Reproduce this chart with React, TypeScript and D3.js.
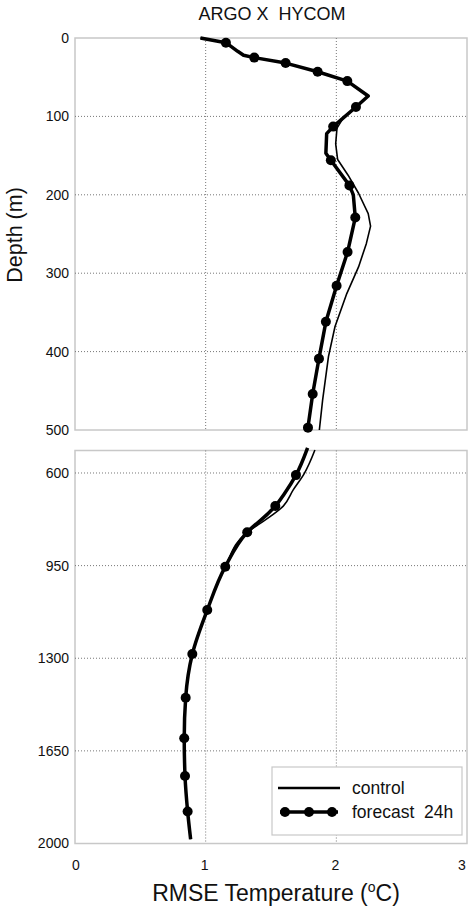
import React from "react";
import * as d3 from "d3";

// ---- data ----
const title = "ARGO X  HYCOM";
const xTicks = [0, 1, 2, 3];
const topYTicks = [0, 100, 200, 300, 400, 500];
const botYTicks = [600, 950, 1300, 1650, 2000];

// forecast 24h, upper panel (0-500 m)
const fcTopDepth = [0, 6, 17, 22, 25, 32, 43, 55, 74, 88, 113, 122, 147, 156, 188, 200, 229, 273, 316, 362, 409, 454, 500];
const fcTopRmse = [0.96, 1.155, 1.245, 1.29, 1.372, 1.612, 1.857, 2.084, 2.244, 2.15, 1.976, 1.926, 1.92, 1.958, 2.1, 2.13, 2.145, 2.086, 2.002, 1.92, 1.867, 1.819, 1.78];
const fcTopMarkDepth = [6, 25, 32, 43, 55, 88, 113, 156, 188, 229, 273, 316, 362, 409, 454, 497];
const fcTopMarkRmse = [1.155, 1.372, 1.612, 1.857, 2.084, 2.15, 1.976, 1.958, 2.1, 2.145, 2.086, 2.002, 1.92, 1.867, 1.819, 1.783];

// control, upper panel
const ctTopDepth = [0, 6, 17, 22, 25, 32, 43, 55, 74, 88, 100, 115, 135, 155, 175, 198, 224, 240, 262, 292, 326, 368, 406, 462, 500];
const ctTopRmse = [0.96, 1.155, 1.245, 1.29, 1.372, 1.612, 1.857, 2.084, 2.244, 2.16, 2.06, 2.005, 1.995, 2.01, 2.09, 2.17, 2.244, 2.262, 2.23, 2.17, 2.08, 1.99, 1.94, 1.895, 1.87];

// forecast 24h, lower panel
const fcBotDepth = [505, 608, 680, 725, 752, 824, 954, 1118, 1284, 1449, 1602, 1745, 1879, 1984];
const fcBotRmse = [1.78, 1.691, 1.6, 1.533, 1.48, 1.318, 1.15, 1.012, 0.898, 0.847, 0.836, 0.842, 0.862, 0.885];
const fcBotMarkDepth = [608, 725, 824, 954, 1118, 1284, 1449, 1602, 1745, 1879];
const fcBotMarkRmse = [1.691, 1.533, 1.318, 1.15, 1.012, 0.898, 0.847, 0.836, 0.842, 0.862];

// control, lower panel
const ctBotDepth = [513, 604, 664, 725, 766, 796, 824, 954, 1118, 1284, 1449, 1602, 1745, 1879, 1984];
const ctBotRmse = [1.836, 1.752, 1.67, 1.594, 1.49, 1.4, 1.318, 1.15, 1.012, 0.898, 0.847, 0.836, 0.842, 0.862, 0.885];

const FONT = "'Liberation Sans', Arial, Helvetica, sans-serif";

export default function App() {
  const W = 474, H = 912;
  const x = d3.scaleLinear().domain([0, 3]).range([75, 467]);
  const yTop = d3.scaleLinear().domain([0, 500]).range([38, 430]);
  const yBot = d3.scaleLinear().domain([515, 2000]).range([450.5, 843.5]);

  const zip = (a: number[], b: number[]) => a.map((d, i) => [b[i], d] as [number, number]);

  const lineTop = d3.line<[number, number]>().x((d) => x(d[0])).y((d) => yTop(d[1])).curve(d3.curveLinear);
  const lineBot = d3.line<[number, number]>().x((d) => x(d[0])).y((d) => yBot(d[1])).curve(d3.curveMonotoneY);

  const gridColor = "#777";
  const borderColor = "#c8c8c8";

  const panel = (y: d3.ScaleLinear<number, number>, ticks: number[], key: string) => {
    const [y0, y1] = y.range();
    return (
      <g key={key}>
        <rect x={x(0)} y={y0} width={x(3) - x(0)} height={y1 - y0} fill="white" stroke={borderColor} strokeWidth={1.5} />
        {[1, 2].map((v) => (
          <line key={"v" + v} x1={x(v)} x2={x(v)} y1={y0} y2={y1} stroke={gridColor} strokeWidth={1} strokeDasharray="1,2" />
        ))}
        {ticks.filter((t) => y(t) > y0 + 2 && y(t) < y1 - 2).map((t) => (
          <line key={"h" + t} x1={x(0)} x2={x(3)} y1={y(t)} y2={y(t)} stroke={gridColor} strokeWidth={1} strokeDasharray="1,2" />
        ))}
        {ticks.map((t) => (
          <text key={"t" + t} x={69} y={y(t)} dy="0.35em" textAnchor="end" fontSize={14} fontFamily={FONT} fill="#111">
            {t}
          </text>
        ))}
      </g>
    );
  };

  const markR = 5;

  return (
    <svg width={W} height={H} style={{ position: "absolute", left: 0, top: 0, background: "white" }}>
      <rect x={0} y={0} width={W} height={H} fill="white" />
      <text x={272} y={20} textAnchor="middle" fontSize={18} fontFamily={FONT} fill="#111" style={{ whiteSpace: "pre" }}>
        {title}
      </text>
      {panel(yTop, topYTicks, "top")}
      {panel(yBot, botYTicks, "bot")}

      {/* control lines */}
      <path d={lineTop(zip(ctTopDepth, ctTopRmse)) || ""} fill="none" stroke="#000" strokeWidth={1.6} strokeLinejoin="round" />
      <path d={lineBot(zip(ctBotDepth, ctBotRmse)) || ""} fill="none" stroke="#000" strokeWidth={1.6} strokeLinejoin="round" />

      {/* forecast lines */}
      <path d={lineTop(zip(fcTopDepth, fcTopRmse)) || ""} fill="none" stroke="#000" strokeWidth={3.5} strokeLinejoin="round" />
      <path d={lineBot(zip(fcBotDepth, fcBotRmse)) || ""} fill="none" stroke="#000" strokeWidth={3.5} strokeLinejoin="round" />
      {fcTopMarkDepth.map((d, i) => (
        <circle key={"mt" + i} cx={x(fcTopMarkRmse[i])} cy={yTop(d)} r={markR} fill="#000" />
      ))}
      {fcBotMarkDepth.map((d, i) => (
        <circle key={"mb" + i} cx={x(fcBotMarkRmse[i])} cy={yBot(d)} r={markR} fill="#000" />
      ))}

      {/* x ticks */}
      {xTicks.map((t) => (
        <text key={"x" + t} x={x(t) + (t === 3 ? -5 : t === 0 ? 1 : -1)} y={870} textAnchor="middle" fontSize={14} fontFamily={FONT} fill="#111">
          {t}
        </text>
      ))}

      {/* axis labels */}
      <text x={276} y={901} textAnchor="middle" fontSize={23} fontFamily={FONT} fill="#111">
        RMSE Temperature (<tspan dy={-9} fontSize={14}>o</tspan>
        <tspan dy={9}>C)</tspan>
      </text>
      <text transform="translate(22,235) rotate(-90)" textAnchor="middle" fontSize={21.5} fontFamily={FONT} fill="#111">
        Depth (m)
      </text>

      {/* legend */}
      <g>
        <rect x={272} y={767} width={190} height={68} fill="white" stroke={borderColor} strokeWidth={1.2} />
        <line x1={278} x2={340} y1={788} y2={788} stroke="#000" strokeWidth={2.5} />
        <text x={352} y={788} dy="0.35em" fontSize={17.5} fontFamily={FONT} fill="#111">control</text>
        <line x1={280} x2={338} y1={812} y2={812} stroke="#000" strokeWidth={3.5} />
        {[285, 309, 332].map((cx) => (
          <circle key={cx} cx={cx} cy={812} r={markR} fill="#000" />
        ))}
        <text x={352} y={812} dy="0.35em" fontSize={17.5} fontFamily={FONT} fill="#111" style={{ whiteSpace: "pre" }}>
          {"forecast  24h"}
        </text>
      </g>
    </svg>
  );
}
